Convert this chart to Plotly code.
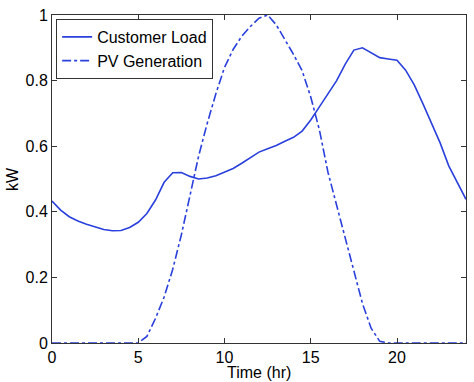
import plotly.graph_objects as go

hours = [i * 0.5 for i in range(49)]
customer_load = [0.433, 0.405, 0.385, 0.372, 0.362, 0.354, 0.346, 0.342, 0.343, 0.352,
                 0.368, 0.395, 0.436, 0.490, 0.519, 0.520, 0.508, 0.500, 0.503, 0.510,
                 0.520, 0.532, 0.548, 0.566, 0.582, 0.592, 0.602, 0.615, 0.627, 0.646,
                 0.680, 0.720, 0.758, 0.800, 0.850, 0.893, 0.900, 0.885, 0.870, 0.866,
                 0.862, 0.832, 0.787, 0.730, 0.670, 0.610, 0.540, 0.490, 0.438]
pv_generation = [0, 0, 0, 0, 0, 0, 0, 0, 0, 0,
                 0, 0.02, 0.075, 0.14, 0.225, 0.33, 0.45, 0.57, 0.67, 0.76,
                 0.84, 0.895, 0.935, 0.965, 0.99, 1.0, 0.97, 0.925, 0.88, 0.83,
                 0.75, 0.65, 0.52, 0.42, 0.32, 0.22, 0.12, 0.045, 0.005, 0,
                 0, 0, 0, 0, 0, 0, 0, 0, 0]
x_ticks = [0, 5, 10, 15, 20]
y_ticks = [0, 0.2, 0.4, 0.6, 0.8, 1]
y_ticklabels = ["0", "0.2", "0.4", "0.6", "0.8", "1"]

blue = "#2a40dc"
font = dict(family="Liberation Sans, Arial, Helvetica, sans-serif", size=16, color="black")

fig = go.Figure()
fig.add_trace(go.Scatter(x=hours, y=customer_load, mode="lines", name="Customer Load",
                         line=dict(color=blue, width=1.6)))
fig.add_trace(go.Scatter(x=hours, y=pv_generation, mode="lines", name="PV Generation",
                         line=dict(color=blue, width=1.6, dash="dashdot")))

axis_common = dict(showgrid=False, zeroline=False, showline=True, linecolor="#333",
                   linewidth=1, mirror="ticks", ticks="inside", ticklen=5,
                   tickcolor="#333", tickfont=font, automargin=False)

fig.update_layout(
    width=474, height=382,
    margin=dict(l=52, r=8, t=15, b=39),
    paper_bgcolor="white", plot_bgcolor="white",
    font=font,
    showlegend=True,
    legend=dict(x=0.01, y=0.988, xanchor="left", yanchor="top",
                bgcolor="white", bordercolor="#333", borderwidth=1,
                font=font, tracegroupgap=0, itemwidth=30),
    xaxis=dict(range=[0, 24], tickvals=x_ticks, ticktext=[str(v) for v in x_ticks],
               **axis_common),
    yaxis=dict(range=[0, 1], tickvals=y_ticks, ticktext=y_ticklabels,
               **axis_common),
    annotations=[
        dict(text="Time (hr)", xref="paper", yref="paper", x=0.5, y=0,
             yshift=-29, xanchor="center", yanchor="middle", showarrow=False, font=font),
        dict(text="kW", xref="paper", yref="paper", x=0, y=0.5, xshift=-40,
             textangle=-90, xanchor="center", yanchor="middle", showarrow=False, font=font),
    ],
)

fig.write_html("out.html", config={"displayModeBar": False},
               post_script="document.body.style.margin='0px';document.body.style.overflow='hidden';")
